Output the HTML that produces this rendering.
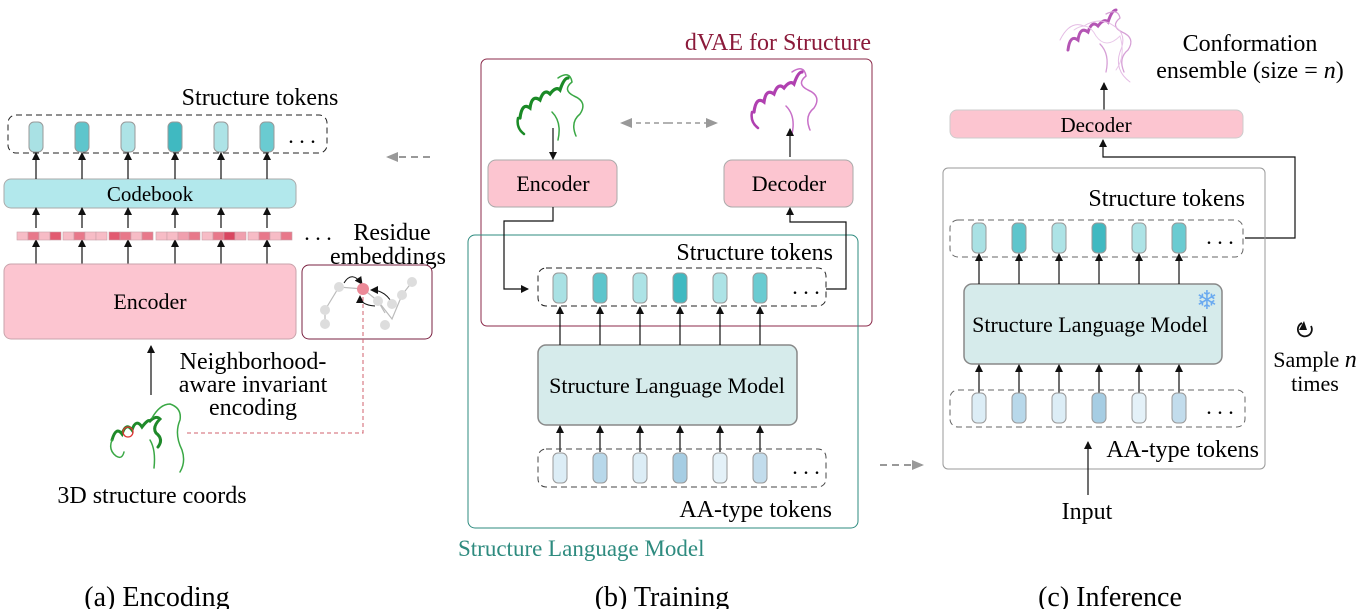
<!DOCTYPE html>
<html><head><meta charset="utf-8"><style>html,body{margin:0;padding:0;background:#fff}svg{display:block}</style></head><body>
<svg width="1364" height="609" viewBox="0 0 1364 609" xmlns="http://www.w3.org/2000/svg" font-family="Liberation Serif, serif">
<defs>
<marker id="ah" markerWidth="8" markerHeight="8" refX="7" refY="4" orient="auto" markerUnits="userSpaceOnUse"><path d="M0,0 L8,4 L0,8 z" fill="#111"/></marker>
<marker id="ag" markerWidth="12" markerHeight="10" refX="10" refY="5" orient="auto" markerUnits="userSpaceOnUse"><path d="M0,0 L12,5 L0,10 z" fill="#999"/></marker>
</defs>

<!-- ===== (a) Encoding ===== -->
<text x="260" y="105" font-size="24" text-anchor="middle">Structure tokens</text>
<rect x="8" y="115" width="319" height="38" rx="8" fill="none" stroke="#222" stroke-dasharray="6,4"/>
<g stroke="#999">
<rect x="29" y="122" width="14" height="30" rx="5" fill="#a9e1e4"/>
<rect x="75" y="122" width="14" height="30" rx="5" fill="#5ec5cc"/>
<rect x="121" y="122" width="14" height="30" rx="5" fill="#ade3e6"/>
<rect x="168" y="122" width="14" height="30" rx="5" fill="#40b9c1"/>
<rect x="214" y="122" width="14" height="30" rx="5" fill="#ade3e6"/>
<rect x="260" y="122" width="14" height="30" rx="5" fill="#6acbd1"/>
</g>
<text x="302" y="143" font-size="22" text-anchor="middle">. . .</text>
<rect x="4" y="179" width="292" height="29" rx="7" fill="#b2e8ec" stroke="#aaa"/>
<text x="150" y="201" font-size="21" text-anchor="middle">Codebook</text>
<g stroke="#111" stroke-width="1.2" marker-end="url(#ah)">
<line x1="36" y1="179" x2="36" y2="153"/><line x1="82" y1="179" x2="82" y2="153"/><line x1="128" y1="179" x2="128" y2="153"/><line x1="175" y1="179" x2="175" y2="153"/><line x1="221" y1="179" x2="221" y2="153"/><line x1="267" y1="179" x2="267" y2="153"/>
<line x1="36" y1="228" x2="36" y2="208"/><line x1="82" y1="228" x2="82" y2="208"/><line x1="128" y1="228" x2="128" y2="208"/><line x1="175" y1="228" x2="175" y2="208"/><line x1="221" y1="228" x2="221" y2="208"/><line x1="267" y1="228" x2="267" y2="208"/>
<line x1="36" y1="264" x2="36" y2="240"/><line x1="82" y1="264" x2="82" y2="240"/><line x1="128" y1="264" x2="128" y2="240"/><line x1="175" y1="264" x2="175" y2="240"/><line x1="221" y1="264" x2="221" y2="240"/><line x1="267" y1="264" x2="267" y2="240"/>
<line x1="151" y1="395" x2="151" y2="346"/>
</g>
<g stroke="#c8a0a8" stroke-width="0.6">
<rect x="17" y="232" width="11" height="8" fill="#f7bcc6"/><rect x="28" y="232" width="11" height="8" fill="#e8788a"/><rect x="39" y="232" width="11" height="8" fill="#f7bcc6"/><rect x="50" y="232" width="11" height="8" fill="#e25a70"/>
<rect x="63" y="232" width="11" height="8" fill="#f7bcc6"/><rect x="74" y="232" width="11" height="8" fill="#e8788a"/><rect x="85" y="232" width="11" height="8" fill="#f7bcc6"/><rect x="96" y="232" width="11" height="8" fill="#f7bcc6"/>
<rect x="109" y="232" width="11" height="8" fill="#e25a70"/><rect x="120" y="232" width="11" height="8" fill="#e8788a"/><rect x="131" y="232" width="11" height="8" fill="#f7bcc6"/><rect x="142" y="232" width="11" height="8" fill="#e8788a"/>
<rect x="156" y="232" width="11" height="8" fill="#f7bcc6"/><rect x="167" y="232" width="11" height="8" fill="#f7bcc6"/><rect x="178" y="232" width="11" height="8" fill="#f0a0ae"/><rect x="189" y="232" width="11" height="8" fill="#e8788a"/>
<rect x="202" y="232" width="11" height="8" fill="#f7bcc6"/><rect x="213" y="232" width="11" height="8" fill="#e8788a"/><rect x="224" y="232" width="11" height="8" fill="#d94660"/><rect x="235" y="232" width="11" height="8" fill="#f0a0ae"/>
<rect x="248" y="232" width="11" height="8" fill="#f7bcc6"/><rect x="259" y="232" width="11" height="8" fill="#e8788a"/><rect x="270" y="232" width="11" height="8" fill="#f7bcc6"/><rect x="281" y="232" width="11" height="8" fill="#e8788a"/>
</g>
<text x="318" y="240" font-size="22" text-anchor="middle">. . .</text>
<text x="392" y="240" font-size="24" text-anchor="middle">Residue</text>
<text x="388" y="264" font-size="24" text-anchor="middle">embeddings</text>
<rect x="4" y="264" width="292" height="75" rx="7" fill="#fcc5d0" stroke="#c9a3ab"/>
<text x="150" y="309" font-size="22" text-anchor="middle">Encoder</text>
<rect x="302" y="265" width="130" height="74" rx="7" fill="#fff" stroke="#7a2040"/>
<g stroke="#bbb" stroke-width="1.2" fill="none">
<polyline points="325,310 339,287 363,289 378,301 392,319 402,295 412,282"/>
<line x1="325" y1="310" x2="325" y2="324"/><line x1="378" y1="301" x2="385" y2="313"/>
</g>
<path d="M344,283 Q352,270 362,284" fill="none" stroke="#111" marker-end="url(#ah)"/>
<path d="M392,303 Q385,290 371,290" fill="none" stroke="#111" marker-end="url(#ah)"/>
<path d="M375,306 Q360,305 360,296" fill="none" stroke="#111" marker-end="url(#ah)"/>
<g fill="#ddd"><circle cx="325" cy="310" r="5"/><circle cx="339" cy="287" r="5"/><circle cx="378" cy="301" r="5"/><circle cx="392" cy="304" r="5"/><circle cx="402" cy="295" r="5"/><circle cx="412" cy="282" r="5"/><circle cx="325" cy="324" r="5"/><circle cx="385" cy="325" r="5"/></g>
<circle cx="363" cy="289" r="6" fill="#ec8a98"/>
<polyline points="187,433 363,433 363,296" fill="none" stroke="#d0606e" stroke-dasharray="4,3"/>
<text x="253" y="369" font-size="24" text-anchor="middle">Neighborhood-</text>
<text x="253" y="392" font-size="24" text-anchor="middle">aware invariant</text>
<text x="253" y="415" font-size="24" text-anchor="middle">encoding</text>
<g fill="none" stroke-linecap="round">
<path d="M112,440 q4,-14 10,-6 q4,-12 10,-4 q4,-12 10,-3 q6,-8 8,-6 q6,-6 10,-2 q-8,8 -4,14 q8,6 2,14" stroke="#1f8a2a" stroke-width="3"/>
<path d="M112,440 q-4,10 4,16 q6,4 8,-4 M152,418 q8,-14 18,-14 q12,4 10,16 q-6,14 2,30 q4,12 -2,22" stroke="#3aa845" stroke-width="1.5"/>
<path d="M150,440 q6,10 4,28" stroke="#3aa845" stroke-width="1.5"/>
</g>
<circle cx="128" cy="432" r="5" fill="none" stroke="#d33" stroke-width="1.3"/>
<text x="152" y="503" font-size="24" text-anchor="middle">3D structure coords</text>
<text x="157" y="606" font-size="28" text-anchor="middle">(a) Encoding</text>
<line x1="430" y1="157" x2="388" y2="157" stroke="#999" stroke-width="2" stroke-dasharray="7,5" marker-end="url(#ag)"/>

<!-- ===== (b) Training ===== -->
<text x="871" y="50" font-size="24" text-anchor="end" fill="#8b1a3a">dVAE for Structure</text>
<rect x="481" y="59" width="391" height="267" rx="6" fill="none" stroke="#8b2a4a"/>
<rect x="468" y="235" width="390" height="293" rx="7" fill="none" stroke="#2e8b7f"/>
<text x="458" y="556" font-size="23" fill="#2e8b7f">Structure Language Model</text>
<g fill="none" stroke-linecap="round">
<path d="M520,118 q2,-16 10,-10 q2,-14 10,-8 q4,-12 10,-6 q6,-8 10,-4 q4,-12 8,-12" stroke="#1a8a26" stroke-width="3.2"/>
<path d="M558,78 q12,-8 14,4 q-10,8 2,14 q14,6 6,18 q-10,8 -4,22 M552,112 q10,10 6,28" stroke="#3aa845" stroke-width="1.5"/>
<path d="M518,118 q-2,10 6,16" stroke="#1a8a26" stroke-width="2.5"/>
</g>
<g fill="none" stroke-linecap="round">
<path d="M754,112 q2,-16 10,-10 q2,-14 10,-8 q4,-12 10,-6 q6,-8 10,-4 q4,-12 8,-12" stroke="#b040b0" stroke-width="3.2"/>
<path d="M792,72 q12,-8 14,4 q-10,8 2,14 q14,6 6,18 q-10,8 -4,22 M786,106 q10,10 6,28" stroke="#c870c8" stroke-width="1.5"/>
<path d="M752,112 q-2,10 6,16" stroke="#b040b0" stroke-width="2.5"/>
</g>
<line x1="668" y1="123" x2="622" y2="123" stroke="#999" stroke-width="1.5" stroke-dasharray="5,4" marker-end="url(#ag)"/>
<line x1="668" y1="123" x2="716" y2="123" stroke="#999" stroke-width="1.5" stroke-dasharray="5,4" marker-end="url(#ag)"/>
<rect x="488" y="160" width="129" height="47" rx="8" fill="#fcc5d0" stroke="#aaa"/>
<text x="553" y="191" font-size="22" text-anchor="middle">Encoder</text>
<rect x="724" y="160" width="129" height="47" rx="8" fill="#fcc5d0" stroke="#aaa"/>
<text x="789" y="191" font-size="22" text-anchor="middle">Decoder</text>
<g stroke="#111" stroke-width="1.2" fill="none" marker-end="url(#ah)">
<line x1="553" y1="128" x2="553" y2="159"/>
<line x1="790" y1="157" x2="790" y2="129"/>
<polyline points="553,207 553,221 504,221 504,289 528,289"/>
<polyline points="826,289 846,289 846,222 790,222 790,208"/>
</g>
<text x="833" y="260" font-size="24" text-anchor="end">Structure tokens</text>
<rect x="538" y="268" width="288" height="38" rx="8" fill="none" stroke="#222" stroke-dasharray="6,4"/>
<g stroke="#999">
<rect x="553" y="273" width="14" height="30" rx="5" fill="#a9e1e4"/>
<rect x="593" y="273" width="14" height="30" rx="5" fill="#5ec5cc"/>
<rect x="633" y="273" width="14" height="30" rx="5" fill="#ade3e6"/>
<rect x="673" y="273" width="14" height="30" rx="5" fill="#40b9c1"/>
<rect x="713" y="273" width="14" height="30" rx="5" fill="#ade3e6"/>
<rect x="753" y="273" width="14" height="30" rx="5" fill="#6acbd1"/>
</g>
<text x="806" y="294" font-size="22" text-anchor="middle">. . .</text>
<rect x="538" y="345" width="259" height="80" rx="8" fill="#d6ebeb" stroke="#888" stroke-width="1.5"/>
<text x="667" y="393" font-size="22" text-anchor="middle">Structure Language Model</text>
<g stroke="#111" stroke-width="1.2" marker-end="url(#ah)">
<line x1="560" y1="345" x2="560" y2="307"/><line x1="600" y1="345" x2="600" y2="307"/><line x1="640" y1="345" x2="640" y2="307"/><line x1="680" y1="345" x2="680" y2="307"/><line x1="720" y1="345" x2="720" y2="307"/><line x1="760" y1="345" x2="760" y2="307"/>
<line x1="560" y1="452" x2="560" y2="426"/><line x1="600" y1="452" x2="600" y2="426"/><line x1="640" y1="452" x2="640" y2="426"/><line x1="680" y1="452" x2="680" y2="426"/><line x1="720" y1="452" x2="720" y2="426"/><line x1="760" y1="452" x2="760" y2="426"/>
</g>
<rect x="538" y="449" width="288" height="38" rx="8" fill="none" stroke="#444" stroke-dasharray="6,4"/>
<g stroke="#999">
<rect x="553" y="453" width="14" height="30" rx="5" fill="#dcedf6"/>
<rect x="593" y="453" width="14" height="30" rx="5" fill="#b8d8ea"/>
<rect x="633" y="453" width="14" height="30" rx="5" fill="#dcedf6"/>
<rect x="673" y="453" width="14" height="30" rx="5" fill="#a6cde3"/>
<rect x="713" y="453" width="14" height="30" rx="5" fill="#e4f1f8"/>
<rect x="753" y="453" width="14" height="30" rx="5" fill="#c2dcec"/>
</g>
<text x="806" y="474" font-size="22" text-anchor="middle">. . .</text>
<text x="832" y="517" font-size="24" text-anchor="end">AA-type tokens</text>
<text x="662" y="606" font-size="28" text-anchor="middle">(b) Training</text>
<line x1="880" y1="465" x2="922" y2="465" stroke="#999" stroke-width="2" stroke-dasharray="7,5" marker-end="url(#ag)"/>

<!-- ===== (c) Inference ===== -->
<g fill="none" stroke-linecap="round" opacity="0.85">
<path d="M1068,50 q2,-16 10,-10 q2,-14 10,-8 q4,-12 10,-6 q6,-8 10,-4 q4,-12 8,-12" stroke="#a838a8" stroke-width="3"/>
<path d="M1106,14 q12,-6 14,4 q-10,8 2,14 q14,6 6,18 q-10,8 -4,22 M1100,44 q10,10 6,28" stroke="#d090d0" stroke-width="1.3"/>
<path d="M1060,40 q10,-20 24,-14 q16,-10 30,0 q14,8 6,26 q-6,18 10,30" stroke="#e0b0e0" stroke-width="1"/>
<path d="M1074,30 q14,-10 22,6 q10,14 24,0 q6,20 -4,34" stroke="#e6c0e6" stroke-width="1"/>
</g>
<text x="1250" y="51" font-size="24" text-anchor="middle">Conformation</text>
<text x="1250" y="78" font-size="24" text-anchor="middle">ensemble (size = <tspan font-style="italic">n</tspan>)</text>
<line x1="1104" y1="110" x2="1104" y2="83" stroke="#111" stroke-width="1.2" marker-end="url(#ah)"/>
<rect x="950" y="110" width="293" height="28" rx="7" fill="#fcc5d0" stroke="#ccc"/>
<text x="1096" y="132" font-size="21" text-anchor="middle">Decoder</text>
<polyline points="1245,238 1295,238 1295,157 1103,157 1103,140" fill="none" stroke="#111" stroke-width="1.2" marker-end="url(#ah)"/>
<rect x="943" y="168" width="322" height="301" rx="5" fill="none" stroke="#999"/>
<text x="1245" y="206" font-size="24" text-anchor="end">Structure tokens</text>
<rect x="950" y="220" width="293" height="37" rx="8" fill="none" stroke="#666" stroke-dasharray="6,4"/>
<g stroke="#999">
<rect x="972" y="223" width="14" height="30" rx="5" fill="#a9e1e4"/>
<rect x="1012" y="223" width="14" height="30" rx="5" fill="#5ec5cc"/>
<rect x="1052" y="223" width="14" height="30" rx="5" fill="#ade3e6"/>
<rect x="1092" y="223" width="14" height="30" rx="5" fill="#40b9c1"/>
<rect x="1132" y="223" width="14" height="30" rx="5" fill="#ade3e6"/>
<rect x="1172" y="223" width="14" height="30" rx="5" fill="#6acbd1"/>
</g>
<text x="1220" y="244" font-size="22" text-anchor="middle">. . .</text>
<rect x="964" y="284" width="258" height="80" rx="8" fill="#d6ebeb" stroke="#888" stroke-width="1.5"/>
<text x="1090" y="332" font-size="22" text-anchor="middle">Structure Language Model</text>
<text x="1207" y="309" font-size="26" text-anchor="middle" fill="#6aaaf0" font-family="DejaVu Sans, sans-serif">❄</text>
<g stroke="#111" stroke-width="1.2" marker-end="url(#ah)">
<line x1="979" y1="284" x2="979" y2="254"/><line x1="1019" y1="284" x2="1019" y2="254"/><line x1="1059" y1="284" x2="1059" y2="254"/><line x1="1099" y1="284" x2="1099" y2="254"/><line x1="1139" y1="284" x2="1139" y2="254"/><line x1="1179" y1="284" x2="1179" y2="254"/>
<line x1="979" y1="393" x2="979" y2="365"/><line x1="1019" y1="393" x2="1019" y2="365"/><line x1="1059" y1="393" x2="1059" y2="365"/><line x1="1099" y1="393" x2="1099" y2="365"/><line x1="1139" y1="393" x2="1139" y2="365"/><line x1="1179" y1="393" x2="1179" y2="365"/>
<line x1="1088" y1="495" x2="1088" y2="442"/>
</g>
<rect x="950" y="390" width="295" height="37" rx="8" fill="none" stroke="#666" stroke-dasharray="6,4"/>
<g stroke="#999">
<rect x="972" y="393" width="14" height="30" rx="5" fill="#dcedf6"/>
<rect x="1012" y="393" width="14" height="30" rx="5" fill="#b8d8ea"/>
<rect x="1052" y="393" width="14" height="30" rx="5" fill="#dcedf6"/>
<rect x="1092" y="393" width="14" height="30" rx="5" fill="#a6cde3"/>
<rect x="1132" y="393" width="14" height="30" rx="5" fill="#e4f1f8"/>
<rect x="1172" y="393" width="14" height="30" rx="5" fill="#c2dcec"/>
</g>
<text x="1220" y="414" font-size="22" text-anchor="middle">. . .</text>
<text x="1259" y="457" font-size="24" text-anchor="end">AA-type tokens</text>
<text x="1087" y="519" font-size="24" text-anchor="middle">Input</text>
<path d="M1311,326 A7,7 0 1 1 1302,323" fill="none" stroke="#111" stroke-width="1.8"/>
<path d="M1299,330 L1304,321 L1307,330 z" fill="#111"/>
<text x="1315" y="367" font-size="22" text-anchor="middle">Sample <tspan font-style="italic" font-size="24">n</tspan></text>
<text x="1315" y="391" font-size="22" text-anchor="middle">times</text>
<text x="1110" y="606" font-size="28" text-anchor="middle">(c) Inference</text>
</svg>
</body></html>
